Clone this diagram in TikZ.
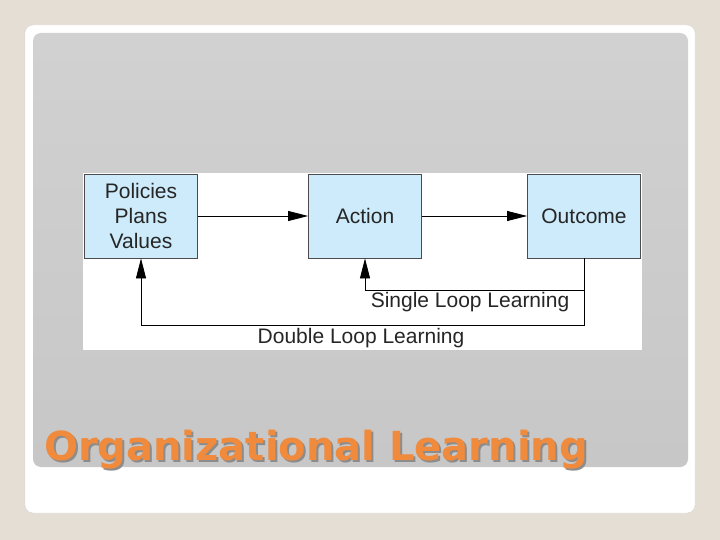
\documentclass[tikz,border=0pt]{standalone}
\usepackage{fontspec}
\setmainfont{Liberation Sans}
\newfontfamily\titlefont{DejaVu Sans}
\usetikzlibrary{arrows.meta}
\definecolor{bgbeige}{HTML}{E4DED4}
\definecolor{boxblue}{HTML}{CDEBFA}
\definecolor{titleorange}{HTML}{F08A3C}
\begin{document}
\begin{tikzpicture}[x=1pt,y=-1pt,
  blk/.style={draw=black!70,fill=boxblue,minimum width=113pt,minimum height=84pt,
    font=\fontsize{21}{25}\selectfont,align=center,line width=0.8pt,text=black!85},
  flow/.style={-{Triangle[length=20pt,width=10pt]},line width=0.8pt},
  lbl/.style={font=\fontsize{21}{25}\selectfont,inner sep=0pt,text=black!85}]
\useasboundingbox (0,0) rectangle (720,540);
\fill[bgbeige] (0,0) rectangle (720,540);
\fill[white,draw=black!15,rounded corners=8pt] (25,25) rectangle (695,513);
\shade[top color=black!18,bottom color=black!22,rounded corners=8pt] (33,33) rectangle (688,467);
\fill[white] (83,173) rectangle (642,350);

\node[blk] (pol) at (141,216) {Policies\\Plans\\Values};
\node[blk] (act) at (365,216) {Action};
\node[blk] (out) at (584,216) {Outcome};

\draw[flow] (pol) -- (act);
\draw[flow] (act) -- (out);
\draw[flow] (out.south) -- ++(0,32) -| (act.south);
\draw[flow] (out.south) -- ++(0,67) -| (pol.south);

\node[lbl] (sll) at (470,302) {Single Loop Learning};
\node[lbl] (dll) at (361,338) {Double Loop Learning};

% title
\node[font=\titlefont\bfseries\fontsize{40}{46}\selectfont,text=black!45,inner sep=0pt] (tsh) at (318,452) {Organizational Learning};
\node[font=\titlefont\bfseries\fontsize{40}{46}\selectfont,text=titleorange,inner sep=0pt] (ttl) at (316,450) {Organizational Learning};
\end{tikzpicture}
\end{document}
